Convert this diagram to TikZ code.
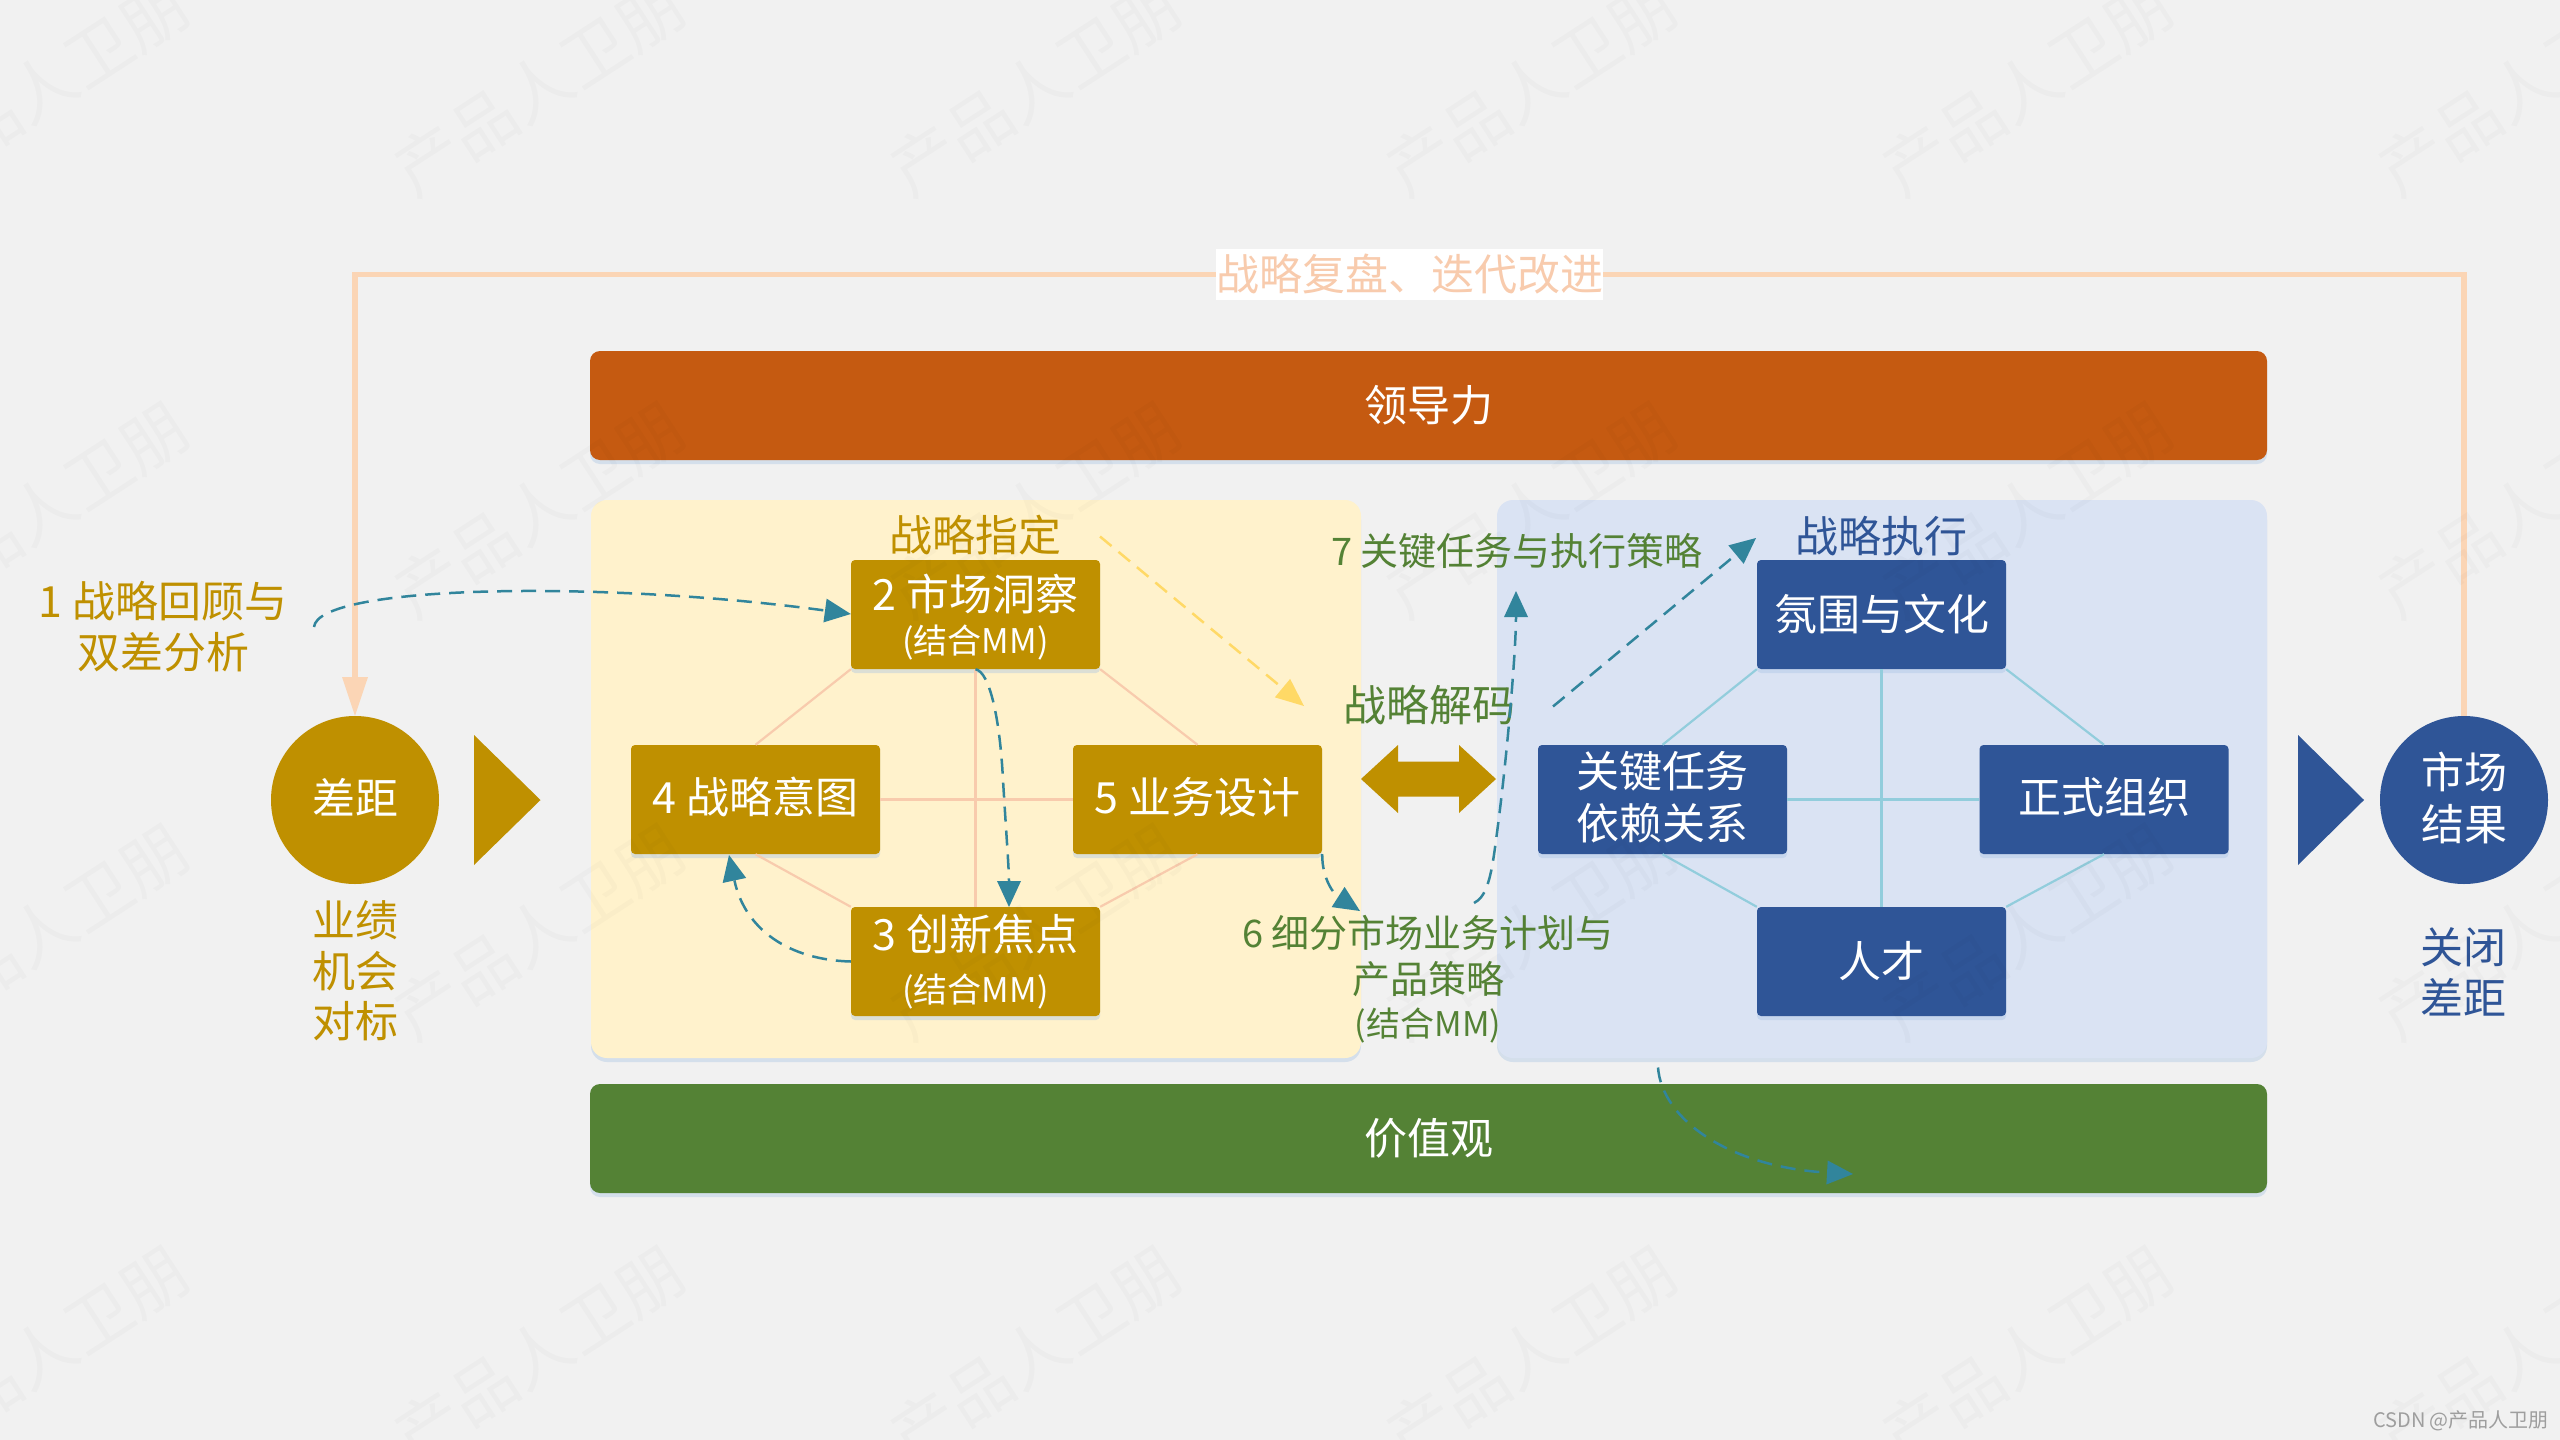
\documentclass[tikz,border=0pt]{standalone}
\usepackage{fontspec}
\setmainfont{Noto Sans CJK SC}
\usetikzlibrary{arrows.meta,shadows}
\definecolor{bgc}{HTML}{F1F1F1}
\definecolor{goldc}{HTML}{BF9000}
\definecolor{bluec}{HTML}{2F5597}
\definecolor{orangec}{HTML}{C55A11}
\definecolor{greenc}{HTML}{548235}
\definecolor{ypanel}{HTML}{FFF2CC}
\definecolor{bpanel}{HTML}{DAE3F3}
\definecolor{tealc}{HTML}{31859C}
\definecolor{peach}{HTML}{F8CBAD}
\definecolor{framec}{HTML}{FBD5B5}
\definecolor{lblue}{HTML}{92CDDC}
\definecolor{ydash}{HTML}{FFD966}
\definecolor{shadowc}{HTML}{A9C4E4}
\newcommand{\fsz}[2]{\fontsize{#1}{#2}\selectfont}
\newcommand{\uplift}{\rule[-8pt]{0pt}{1pt}}
\tikzset{
  softshadow/.style={general shadow={fill=shadowc,fill opacity=.4,shadow yshift=-4pt}},
  panel/.style={rounded corners=16pt,softshadow,inner sep=0pt,minimum width=770pt,minimum height=558pt},
  bar/.style={rounded corners=10pt,softshadow,inner sep=0pt,minimum width=1677pt,minimum height=109pt,text=white,font=\fsz{43}{52}},
  gbox/.style={fill=goldc,rounded corners=4pt,softshadow,inner sep=0pt,minimum width=249pt,minimum height=109pt,text=white,align=center,font=\fsz{43}{52}},
  bbox/.style={gbox,fill=bluec},
  disc/.style={circle,inner sep=0pt,minimum size=168pt,text=white,align=center,font=\fsz{43}{52}},
  lab/.style={inner sep=0pt,align=center,font=\fsz{43}{50}},
  goldlab/.style={lab,text=goldc},
  greenlab/.style={lab,text=greenc},
  bluelab/.style={lab,text=bluec},
  pline/.style={draw=peach,line width=2.2pt},
  bline/.style={draw=lblue,line width=2.2pt},
  tealarrow/.style={draw=tealc,line width=2.5pt,dash pattern=on 15pt off 9pt,-{Triangle[length=26pt,width=24pt,fill=tealc,line width=0pt]}},
  yarrow/.style={draw=ydash,line width=2.5pt,dash pattern=on 15pt off 9pt,-{Triangle[length=28pt,width=24pt,fill=ydash,line width=0pt]}},
  frameline/.style={draw=framec,line width=5.5pt},
  wmark/.style={inner sep=0pt,text=black,text opacity=.02,rotate=33,font=\fsz{66}{66}},
}
\begin{document}
\begin{tikzpicture}[x=1pt,y=-1pt]
\fill[bgc,use as bounding box] (0,0) rectangle (2560,1440);

% bars and panels
\node[bar,fill=orangec] (lead) at (1428.5,405.5) {领导力};
\node[bar,fill=greenc] (values) at (1428.5,1138.5) {价值观};
\node[panel,fill=ypanel] (ypan) at (976,779) {};
\node[panel,fill=bpanel] (bpan) at (1882,779) {};

% discs
\node[disc,fill=goldc] (gap) at (355,800) {差距\uplift};
\node[disc,fill=bluec] (result) at (2464,800) {市场\\结果\uplift};

% feedback frame
\coordinate (fl) at (355,274.5);
\coordinate (fr) at (2464,274.5);
\draw[frameline] (result.north) -- (fr) -- (fl) -- (355,690);
\fill[framec] (342,677) -- (368,677) -- (gap.north) -- cycle;
\node[fill=white,inner sep=0pt,minimum width=383pt,minimum height=51pt,text=peach,font=\fsz{43}{50}] (review) at (1409.5,274.5) {战略复盘、迭代改进};

% triangles and double arrow
\fill[goldc] (474,735) -- (540.5,800) -- (474,865) -- cycle;
\fill[bluec] (2298,735) -- (2364,800) -- (2298,865) -- cycle;
\fill[goldc] (1361,779) -- (1398,745) -- (1398,761.5) -- (1459,761.5) -- (1459,745) -- (1496,779) -- (1459,813) -- (1459,796.5) -- (1398,796.5) -- (1398,813) -- cycle;

% gold boxes
\node[gbox] (b2) at (975.5,614.5) {\rule{0pt}{42pt}2 市场洞察\\[-9pt]{\fsz{34}{40}(结合MM)}};
\node[gbox] (b3) at (975.5,961.5) {3 创新焦点\\[0pt]{\fsz{34}{40}(结合MM)}};
\node[gbox] (b4) at (755.5,799.5) {4 战略意图\uplift};
\node[gbox] (b5) at (1197.5,799.5) {5 业务设计\uplift};
% blue boxes
\node[bbox] (t1) at (1881.5,614.5) {氛围与文化};
\node[bbox] (t2) at (1662.5,799.5) {关键任务\\依赖关系\uplift};
\node[bbox] (t3) at (2104,799.5) {正式组织\uplift};
\node[bbox] (t4) at (1881.5,961.5) {人才};

% connecting lines, left
\draw[pline] (b2.south west) -- (b4.north);
\draw[pline] (b2.south east) -- (b5.north);
\draw[pline] (b4.south) -- (b3.north west);
\draw[pline] (b5.south) -- (b3.north east);
\draw[pline] (b2.south) -- (b3.north);
\draw[pline] (b4.east) -- (b5.west);
% connecting lines, right
\draw[bline] (t1.south west) -- (t2.north);
\draw[bline] (t1.south east) -- (t3.north);
\draw[bline] (t2.south) -- (t4.north west);
\draw[bline] (t3.south) -- (t4.north east);
\draw[bline] (t1.south) -- (t4.north);
\draw[bline] (t2.east) -- (t3.west);

% labels
\node[goldlab,font=\fsz{43}{51}] (l1) at (163,626.5) {1 战略回顾与\\双差分析};
\node[goldlab,font=\fsz{43}{50.5}] (lgap) at (355,971) {业绩\\机会\\对标};
\node[bluelab,font=\fsz{43}{51}] (lclose) at (2463,971.5) {关闭\\差距};
\node[goldlab] (ldef) at (975.5,535) {战略指定};
\node[bluelab] (lexec) at (1881,536) {战略执行};
\node[greenlab] (ldec) at (1429,705) {战略解码};
\node[greenlab,font=\fsz{38}{46}] (l7) at (1517,551) {7 关键任务与执行策略};
\node[greenlab,font=\fsz{38}{46}] (l6) at (1428,956.5) {6 细分市场业务计划与\\产品策略};
\node[greenlab,font=\fsz{34}{40}] (l6b) at (1428,1025) {(结合MM)};

% dashed connectors
\coordinate (c1s) at (314,627);
\draw[tealarrow] (c1s) .. controls (318,585) and (600,580) .. (b2.west |- 0,614);
\coordinate (c23) at (1009,907);
\draw[tealarrow] (b2.south) .. controls (990,672) and (1000,720) .. (1003,780) .. controls (1006,830) and (1009,870) .. (c23);
\coordinate (c34) at (729,855);
\draw[tealarrow] (b3.west) .. controls (790,960) and (745,930) .. (c34);
\coordinate (c56) at (1360,911);
\draw[tealarrow] (b5.south east) .. controls (1322,880) and (1335,895) .. (c56);
\coordinate (c6s) at (1474,903);
\coordinate (c6e) at (1516,591);
\draw[tealarrow] (c6s) .. controls (1486,897) and (1491,880) .. (1496,840) .. controls (1507,760) and (1516,650) .. (c6e);
\coordinate (c7s) at (1553,706.5);
\coordinate (c7e) at (1756,538);
\draw[tealarrow] (c7s) -- (c7e);
\coordinate (c8s) at (1658,1067.5);
\coordinate (c8e) at (1853,1174);
\draw[tealarrow] (c8s) .. controls (1662,1120) and (1730,1167) .. (c8e);
\coordinate (cys) at (1100,536.5);
\coordinate (cye) at (1304,706);
\draw[yarrow] (cys) -- (cye);

% watermark
\foreach \j/\yy in {0/88,1/510,2/932,3/1354}{
  \foreach \i/\xx in {0/43,1/539,2/1035,3/1531,4/2027,5/2523}{
    \node[wmark] (wm\i\j) at (\xx,\yy) {产品人卫朋};
  }
}
\node[inner sep=0pt,text=black!38,font=\fsz{20}{24}] (csdn) at (2461,1421) {CSDN @产品人卫朋};
\end{tikzpicture}
\end{document}
